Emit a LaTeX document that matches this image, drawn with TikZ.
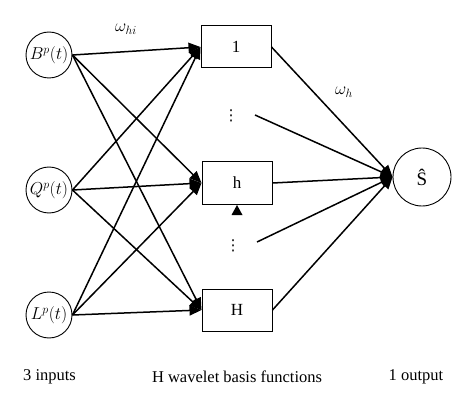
\documentclass[tikz,border=0pt]{standalone}
\usepackage{fontspec}
\setmainfont{Liberation Serif}
\newfontfamily\dvfont{DejaVu Sans}
\usetikzlibrary{arrows.meta}
\begin{document}
\begin{tikzpicture}[x=1pt,y=-1pt,
  inp/.style={circle,draw,line width=0.9pt,minimum size=46pt,inner sep=0pt,font=\fontsize{17}{19}\selectfont},
  outp/.style={circle,draw,line width=0.9pt,minimum size=58pt,inner sep=0pt,font=\fontsize{19}{21}\selectfont},
  hid/.style={rectangle,draw,line width=1pt,minimum width=70pt,minimum height=42pt,inner sep=0pt,font=\fontsize{17}{19}\selectfont},
  lbl/.style={font=\fontsize{16.5}{18}\selectfont,inner sep=0pt},
  wlbl/.style={font=\fontsize{18}{20}\selectfont,inner sep=0pt},
  dots/.style={font=\dvfont\fontsize{15}{16}\selectfont,inner sep=0pt},
  arr/.style={line width=1.5pt,-{Triangle[length=12pt,width=10pt]}},
  ln/.style={line width=1.5pt}]
\useasboundingbox (0,0) rectangle (474,409);
\node[inp] (B) at (49,55) {$B^{p}(t)$};
\node[inp] (Q) at (49,190) {$Q^{p}(t)$};
\node[inp] (L) at (49,315) {$L^{p}(t)$};
\node[hid] (h1) at (236,47) {1};
\node[hid] (hh) at (237,183) {h};
\node[hid] (hH) at (237,310) {H};
\node[outp] (S) at (422,177) {Ŝ};
\node[dots] (d1) at (231,116) {⋮};
\node[dots] (d2) at (233,246) {⋮};
\coordinate (e1) at (255,115);
\coordinate (e2) at (257,242);
\foreach \i in {B,Q,L}{
  \foreach \j in {h1,hh,hH}{
    \draw[arr] (\i.east) -- (\j.west);
  }
}
\draw[arr] (h1.east) -- (S.west);
\draw[arr] (hh.east) -- (S.west);
\draw[arr] (hH.east) -- (S.west);
\draw[arr] (e1) -- (S.west);
\draw[arr] (e2) -- (S.west);
\fill (237,205) -- (242.5,215) -- (231.5,215) -- cycle;
\node[wlbl] (whi) at (126,29) {$\omega_{hi}$};
\node[wlbl] (wh) at (344,92) {$\omega_{h}$};
\node[lbl] (t1) at (49.5,377) {3 inputs};
\node[lbl] (t2) at (237,377) {H wavelet basis functions};
\node[lbl] (t3) at (416,377) {1 output};
\end{tikzpicture}
\end{document}
